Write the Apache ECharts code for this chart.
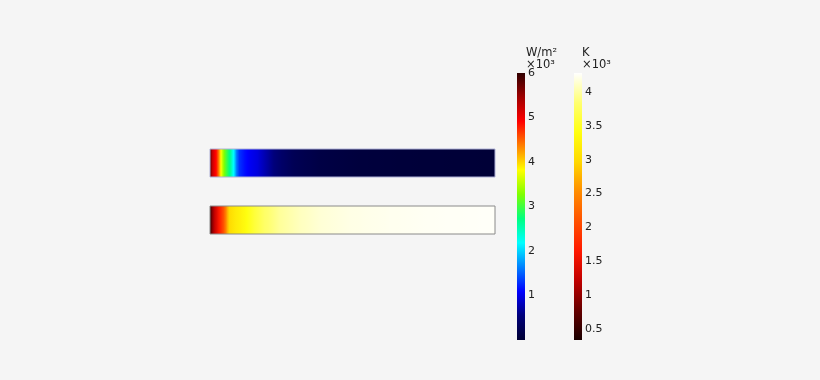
<!DOCTYPE html>
<html><head><meta charset="utf-8">
<script src="https://cdn.jsdelivr.net/npm/echarts@6/dist/echarts.min.js"></script>
<style>html,body{margin:0;padding:0;background:#f5f5f5}#c{width:820px;height:380px}</style>
</head><body><div id="c"></div>
<script>
// Position along the strip (percent of length)
const fluxPositions = [0,0.5,1.1,1.8,2.5,3.2,3.9,4.6,5.3,6.3,7.4,8.1,8.8,9.5,10.5,12.3,14,16.8,19.6,22.5,25.3,29.8,38.6,52.6,70.2,100];
// Heat flux, W/m^2 x10^3
const fluxValues = [5.9,5.6,5.2,5.0,4.8,4.4,3.9,3.5,3.2,2.9,2.6,2.3,2.0,1.6,1.3,1.15,1.05,0.95,0.75,0.55,0.4,0.25,0.14,0.08,0.05,0.03];
const tempPositions = [0,0.5,1.1,1.8,2.8,3.9,4.9,5.6,6.3,7,8.8,12.3,15.8,19.3,24.6,31.6,38.6,49.1,63.2,80.7,100];
// Temperature, K x10^3
const tempValues = [0.45,0.7,1.0,1.25,1.5,1.8,2.1,2.4,2.75,3.0,3.15,3.35,3.6,3.8,3.97,4.08,4.15,4.2,4.23,4.25,4.26];
const fluxRange = [0, 6];
const tempRange = [0.34, 4.28];
const fluxTicks = [1,2,3,4,5,6];
const tempTicks = [0.5,1,1.5,2,2.5,3,3.5,4];
const fluxColors = ['#000033','#00007a','#0000ff','#0080ff','#00ffff','#00ff80','#80ff00','#ffff00','#ff8000','#ff0000','#a00000','#300000'];
const tempColors = ['#1a0000','#660000','#c00000','#ff1800','#ff5000','#ff8c00','#ffd800','#ffff10','#ffff70','#ffffff'];

function hex(c){return [parseInt(c.substr(1,2),16),parseInt(c.substr(3,2),16),parseInt(c.substr(5,2),16)];}
function cmap(v, range, colors){
  let t=(v-range[0])/(range[1]-range[0]); t=Math.max(0,Math.min(1,t));
  const f=t*(colors.length-1); const i=Math.min(Math.floor(f),colors.length-2); const u=f-i;
  const a=hex(colors[i]), b=hex(colors[i+1]);
  return 'rgb('+a.map((x,k)=>Math.round(x+(b[k]-x)*u)).join(',')+')';
}
function stripRender(pos, vals, range, colors, border){
  return function(params, api){
    const p0=api.coord([pos[0],1]), p1=api.coord([pos[pos.length-1],0]);
    const w=p1[0]-p0[0];
    const stops=[];
    for(let i=0;i<pos.length-1;i++){
      const a=api.coord([pos[i],0])[0], b=api.coord([pos[i+1],0])[0];
      const n=8;
      for(let k=0;k<(i===pos.length-2?n+1:n);k++){
        const t=k/n;
        stops.push({offset:((a+(b-a)*t)-p0[0])/w,color:cmap(vals[i]+(vals[i+1]-vals[i])*t,range,colors)});
      }
    }
    return {type:'rect',shape:{x:p0[0],y:p0[1],width:w,height:p1[1]-p0[1]},
      style:{fill:new echarts.graphic.LinearGradient(0,0,1,0,stops),stroke:border,lineWidth:1}};
  };
}
function barRender(range, colors){
  return function(params, api){
    const p0=api.coord([0,range[1]]), p1=api.coord([1,range[0]]);
    const stops=colors.map((c,i)=>({offset:1-i/(colors.length-1),color:c}));
    return {type:'rect',shape:{x:p0[0],y:p0[1],width:p1[0]-p0[0],height:p1[1]-p0[1]},
      style:{fill:new echarts.graphic.LinearGradient(0,0,0,1,stops)}};
  };
}
const font='DejaVu Sans';
const hiddenAxis=(min,max,gi)=>({type:'value',min:min,max:max,gridIndex:gi,show:false});
const barAxis=(range,ticks,gi)=>({type:'value',min:range[0],max:range[1],gridIndex:gi,position:'right',
  axisLine:{show:false},splitLine:{show:false},
  axisTick:{show:true,inside:false,length:2,customValues:ticks,lineStyle:{color:'#666'}},
  axisLabel:{customValues:ticks,margin:3,fontSize:11,color:'#222',fontFamily:font}});
const chart=echarts.init(document.getElementById('c'));
chart.setOption({
  backgroundColor:'#f5f5f5',
  animation:false,
  grid:[
    {left:210,top:149,width:285,height:28},
    {left:210,top:206,width:285,height:28},
    {left:517,top:73,width:8,height:267},
    {left:574,top:73,width:8,height:267}
  ],
  xAxis:[hiddenAxis(0,100,0),hiddenAxis(0,100,1),hiddenAxis(0,1,2),hiddenAxis(0,1,3)],
  yAxis:[hiddenAxis(0,1,0),hiddenAxis(0,1,1),barAxis(fluxRange,fluxTicks,2),barAxis(tempRange,tempTicks,3)],
  series:[
    {type:'custom',xAxisIndex:0,yAxisIndex:0,data:[[0]],renderItem:stripRender(fluxPositions,fluxValues,fluxRange,fluxColors,'#aeb0d6')},
    {type:'custom',xAxisIndex:1,yAxisIndex:1,data:[[0]],renderItem:stripRender(tempPositions,tempValues,tempRange,tempColors,'#8a8a8a')},
    {type:'custom',xAxisIndex:2,yAxisIndex:2,data:[[0]],renderItem:barRender(fluxRange,fluxColors)},
    {type:'custom',xAxisIndex:3,yAxisIndex:3,data:[[0]],renderItem:barRender(tempRange,tempColors)}
  ],
  graphic:[
    {type:'text',left:526,top:47,style:{text:'W/m²',fontSize:11.5,fill:'#222',fontFamily:font}},
    {type:'text',left:526,top:59,style:{text:'×10³',fontSize:11.5,fill:'#222',fontFamily:font}},
    {type:'text',left:582,top:47,style:{text:'K',fontSize:11.5,fill:'#222',fontFamily:font}},
    {type:'text',left:582,top:59,style:{text:'×10³',fontSize:11.5,fill:'#222',fontFamily:font}}
  ]
});
</script></body></html>
